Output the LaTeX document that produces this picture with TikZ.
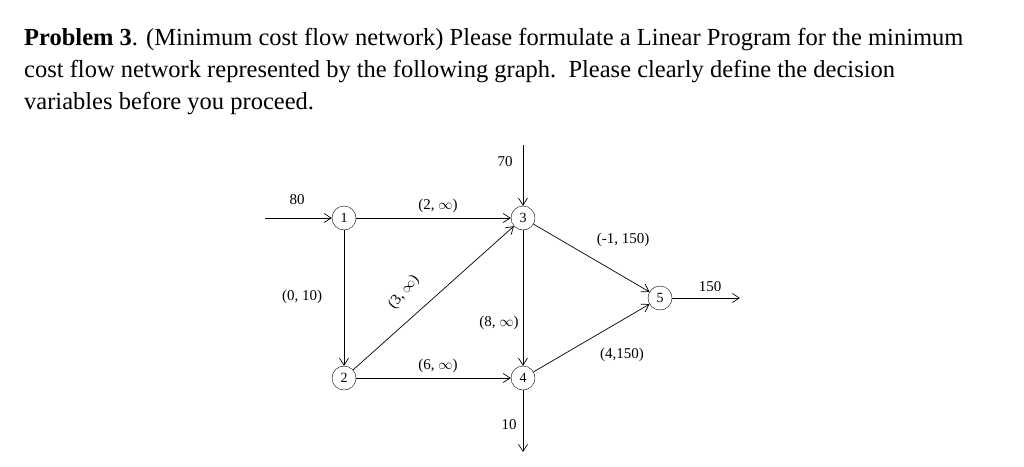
\documentclass[tikz,border=0pt]{standalone}
\usepackage{fontspec}
\setmainfont{Liberation Serif}
\usetikzlibrary{arrows.meta}
\begin{document}
\begin{tikzpicture}[x=1pt,y=-1pt,
  nd/.style={circle,draw,minimum size=24pt,inner sep=0pt,font=\fontsize{14}{14}\selectfont},
  lb/.style={font=\fontsize{15}{15}\selectfont},
  ar/.style={-{Straight Barb[length=7pt,width=9pt]},line width=0.7pt}]
\useasboundingbox (0,0) rectangle (1024,466);
\node[anchor=west,align=left,font=\fontsize{24.5}{32}\selectfont,inner sep=0pt] (t) at (24,72) {\textbf{Problem 3}. (Minimum cost flow network) Please formulate a Linear Program for the minimum\\cost flow network represented by the following graph.\ \ Please clearly define the decision\\variables before you proceed.};
\node[nd] (n1) at (344,218) {1};
\node[nd] (n2) at (344,378) {2};
\node[nd] (n3) at (523,218) {3};
\node[nd] (n4) at (523,378) {4};
\node[nd] (n5) at (660,298) {5};
\coordinate (i1) at (265,218);
\coordinate (i3) at (523,145);
\coordinate (o4) at (523,452);
\coordinate (o5) at (740,298);
\draw[ar] (i1) -- (n1);
\draw[ar] (i3) -- (n3);
\draw[ar] (n4) -- (o4);
\draw[ar] (n5) -- (o5);
\draw[ar] (n1) -- (n3);
\draw[ar] (n1) -- (n2);
\draw[ar] (n2) -- (n3);
\draw[ar] (n3) -- (n4);
\draw[ar] (n2) -- (n4);
\draw[ar] (n3) -- (n5);
\draw[ar] (n4) -- (n5);
\node[lb] (l80) at (297,200) {80};
\node[lb] (l70) at (505,162) {70};
\node[lb] (l10) at (509,425) {10};
\node[lb] (l150) at (710,287) {150};
\node[lb] (e13) at (438,206) {(2, $\infty$)};
\node[lb] (e12) at (302,297) {(0, 10)};
\node[lb,rotate=50,inner sep=0pt] (e23) at (404,292) {(3, $\infty$)};
\node[lb] (e34) at (499,323) {(8, $\infty$)};
\node[lb] (e24) at (438,366) {(6, $\infty$)};
\node[lb] (e35) at (623,240) {(-1, 150)};
\node[lb] (e45) at (622,355) {(4,150)};
\end{tikzpicture}
\end{document}
